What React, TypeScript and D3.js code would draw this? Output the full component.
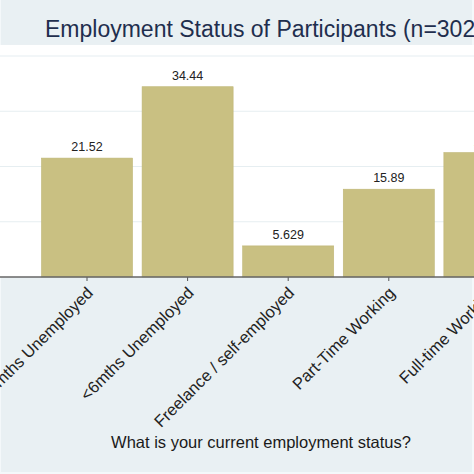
import * as d3 from "d3";
import { useEffect, useRef } from "react";

const CATEGORIES = [
  ">6mths Unemployed",
  "<6mths Unemployed",
  "Freelance / self-employed",
  "Part-Time Working",
  "Full-time Working",
];
const PERCENTS = [21.52, 34.44, 5.629, 15.89, 22.52];
const VALUE_LABELS = ["21.52", "34.44", "5.629", "15.89", "22.52"];
const Y_TICKS = [0, 10, 20, 30, 40];

const W = 474;
const H = 474;
const BASE_Y = 277;
const BG = "#e9f0f3";
const BAR = "#c9c082";
const FONT = "'Liberation Sans', Arial, Helvetica, sans-serif";

const App = () => {
  const svgRef = useRef<SVGSVGElement>(null);

  useEffect(() => {
    if (!svgRef.current) return;
    const svg = d3.select(svgRef.current);
    svg.selectAll("*").remove();

    const x = d3
      .scaleBand<string>()
      .domain(CATEGORIES)
      .range([-8.8, 585.2])
      .paddingInner(0.095)
      .paddingOuter(0.5);

    const y = d3.scaleLinear().domain([0, 40]).range([BASE_Y, 56]);

    // graph region + its pale outer edge
    svg.append("rect").attr("width", W).attr("height", H).attr("fill", "#f4f8fa");
    svg
      .append("rect")
      .attr("x", 1)
      .attr("width", W - 3)
      .attr("height", H - 2)
      .attr("fill", BG);

    // plot region
    svg
      .append("rect")
      .attr("x", -20)
      .attr("y", y(42))
      .attr("width", W + 40)
      .attr("height", BASE_Y - y(42))
      .attr("fill", "#ffffff");

    // grid lines
    svg
      .append("g")
      .selectAll("line")
      .data(Y_TICKS.filter((t) => t > 0))
      .join("line")
      .attr("x1", -20)
      .attr("x2", W + 20)
      .attr("y1", (d) => y(d))
      .attr("y2", (d) => y(d))
      .attr("stroke", "#e6eef1")
      .attr("stroke-width", 1.2);

    // bars
    svg
      .append("g")
      .selectAll("rect")
      .data(PERCENTS)
      .join("rect")
      .attr("x", (_, i) => x(CATEGORIES[i]) as number)
      .attr("y", (d) => y(d))
      .attr("width", x.bandwidth())
      .attr("height", (d) => BASE_Y - y(d))
      .attr("fill", BAR)
      .attr("stroke", "#bfb676")
      .attr("stroke-width", 0.6);

    // value labels
    svg
      .append("g")
      .selectAll("text")
      .data(PERCENTS)
      .join("text")
      .attr("x", (_, i) => (x(CATEGORIES[i]) as number) + x.bandwidth() / 2)
      .attr("y", (d) => y(d) - 7)
      .attr("text-anchor", "middle")
      .attr("font-family", FONT)
      .attr("font-size", 12.5)
      .attr("fill", "#222")
      .text((_, i) => VALUE_LABELS[i]);

    // x axis ticks
    const xAxis = svg
      .append("g")
      .attr("transform", `translate(0,${BASE_Y})`)
      .call(d3.axisBottom(x).tickSize(4).tickFormat(() => ""));
    xAxis.select(".domain").remove();
    xAxis.selectAll(".tick line").attr("stroke", "#555");

    // rotated category labels
    svg
      .append("g")
      .selectAll("text")
      .data(CATEGORIES)
      .join("text")
      .attr(
        "transform",
        (d) =>
          `translate(${(x(d) as number) + x.bandwidth() / 2 + 3},${BASE_Y + 13}) rotate(-45)`
      )
      .attr("dy", "0.35em")
      .attr("text-anchor", "end")
      .attr("font-family", FONT)
      .attr("font-size", 16.5)
      .attr("fill", "#222")
      .text((d) => d);

    svg
      .append("line")
      .attr("x1", -20)
      .attr("x2", W + 20)
      .attr("y1", BASE_Y)
      .attr("y2", BASE_Y)
      .attr("stroke", "#666")
      .attr("stroke-width", 1.3);

    // axis title
    svg
      .append("text")
      .attr("x", 261)
      .attr("y", 448)
      .attr("text-anchor", "middle")
      .attr("font-family", FONT)
      .attr("font-size", 16.5)
      .attr("fill", "#1a1a1a")
      .text("What is your current employment status?");

    // title
    svg
      .append("text")
      .attr("x", 45)
      .attr("y", 37)
      .attr("font-family", FONT)
      .attr("font-size", 23)
      .attr("fill", "#1f2e4e")
      .text("Employment Status of Participants (n=302)");
  }, []);

  return (
    <svg
      ref={svgRef}
      width={W}
      height={H}
      style={{ position: "fixed", top: 0, left: 0 }}
    />
  );
};

export default App;
